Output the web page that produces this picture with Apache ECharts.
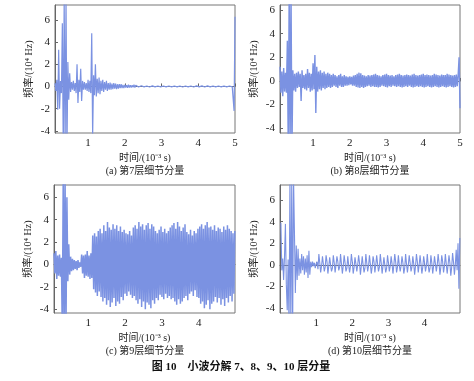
<!DOCTYPE html>
<html><head><meta charset="utf-8">
<script src="https://cdn.jsdelivr.net/npm/echarts@6/dist/echarts.min.js"></script>
<style>html,body{margin:0;padding:0;background:#fff}#c{width:474px;height:381px}</style>
</head><body><div id="c"></div>
<script>
// sample step (10^-3 s) and start times
const DT = 0.025;
const startA = 0.1, startB = 0.1, startC = 0.075, startD = 0.025;
const xTicksAB = [1, 2, 3, 4, 5];
const xTicksCD = [1, 2, 3, 4];
const yTicks = [-4, -2, 0, 2, 4, 6];
const captions = ['(a) 第7层细节分量', '(b) 第8层细节分量', '(c) 第9层细节分量', '(d) 第10层细节分量'];
const figTitle = '图 10　小波分解 7、8、9、10 层分量';
const xName = '时间/(10⁻³ s)';
const yName = '频率/(10⁴ Hz)';

// layer 7 detail
const valA = [
0.3,-0.4,0.6,-2.1,3.3,-2.0,0.5,-0.6,5.7,-6,
8,-6,8,-6,2.2,-1.2,1.2,-0.5,0.4,-0.3,
0.5,-0.4,0.3,-0.6,2.0,-1.5,0.6,-0.5,1.6,-1.3,
0.5,-0.3,0.4,-0.3,0.3,-0.4,0.6,-0.5,0.5,-0.6,
4.8,-4.5,1.0,-0.8,2.0,-0.9,0.7,-0.6,0.8,-0.7,
0.5,-0.4,0.6,-0.5,0.4,-0.3,0.5,-0.4,0.3,-0.3,
0.35,-0.3,0.25,-0.25,0.3,-0.2,0.25,-0.25,0.2,-0.2,
0.2,-0.15,0.2,-0.15,0.15,-0.15,0.15,-0.1,0.12,-0.12,
0.15,-0.1,0.1,-0.1,0.12,-0.08,0.15,-0.1,0.1,-0.08,
0.06,-0.05,0.08,-0.05,0.06,-0.04,0.05,-0.04,0.04,-0.04,
0.04,-0.04,0.04,-0.05,0.04,-0.04,0.05,-0.04,0.04,-0.04,
0.04,-0.05,0.04,-0.04,0.05,-0.04,0.04,-0.04,0.04,-0.05,
0.05,-0.04,0.04,-0.05,0.04,-0.04,0.05,-0.04,0.04,-0.04,
0.04,-0.05,0.04,-0.04,0.05,-0.04,0.04,-0.04,0.04,-0.05,
0.05,-0.04,0.04,-0.05,0.04,-0.04,0.05,-0.04,0.04,-0.04,
0.04,-0.05,0.04,-0.04,0.05,-0.04,0.04,-0.04,0.04,-0.05,
0.05,-0.04,0.04,-0.05,0.04,-0.04,0.05,-0.04,0.04,-0.04,
0.04,-0.05,0.04,-0.04,0.05,-0.04,0.04,-0.04,0.04,-0.05,
0.05,-0.04,0.04,-0.05,0.04,-0.04,0.05,-0.04,0.04,-0.04,
0.04,-0.05,0.04,-0.04,0.05,-2.2,6.3
];
// layer 8 detail
const valB = [
1.2,-1.0,0.8,-1.3,1.1,-0.9,0.7,-1.0,3.4,-6,
8,-6,8,-6,0.9,-0.8,0.6,-0.9,0.7,-0.6,
0.8,-0.5,0.6,-1.7,0.9,-0.6,0.5,-0.7,0.6,-0.8,
1.0,-0.6,0.7,-0.9,0.6,-0.8,1.5,-0.7,2.2,-2.7,
1.2,-0.9,0.8,-0.7,0.9,-0.8,0.7,-0.6,0.8,-0.7,
0.6,-0.6,0.7,-0.5,0.6,-0.6,0.5,-0.5,0.6,-0.4,
0.5,-0.5,0.4,-0.6,0.5,-0.4,0.6,-0.5,0.4,-0.5,
0.5,-0.4,0.4,-0.4,0.35,-0.35,0.4,-0.3,0.35,-0.4,
0.45,-0.4,0.5,-0.5,0.6,-0.55,0.7,-0.6,0.65,-0.5,
0.5,-0.6,0.45,-0.5,0.4,-0.45,0.5,-0.4,0.45,-0.5,
0.5,-0.45,0.55,-0.5,0.6,-0.5,0.5,-0.55,0.45,-0.5,
0.4,-0.4,0.5,-0.45,0.55,-0.5,0.6,-0.55,0.5,-0.45,
0.45,-0.5,0.5,-0.4,0.4,-0.45,0.5,-0.5,0.55,-0.45,
0.6,-0.5,0.5,-0.55,0.45,-0.5,0.5,-0.45,0.55,-0.5,
0.5,-0.4,0.45,-0.5,0.55,-0.55,0.6,-0.5,0.5,-0.45,
0.45,-0.5,0.5,-0.45,0.55,-0.5,0.6,-0.55,0.5,-0.5,
0.55,-0.45,0.5,-0.5,0.45,-0.55,0.5,-0.5,0.6,-0.45,
0.55,-0.5,0.5,-0.55,0.45,-0.5,0.55,-0.45,0.5,-0.5,
0.5,-0.55,0.6,-0.5,0.55,-0.45,0.5,-0.5,0.45,-0.55,
0.5,-0.5,0.55,-0.45,0.5,2.0,-2.3
];
// layer 9 detail
const valC = [
1.0,-0.8,1.2,-1.3,0.8,-1.0,0.9,-1.1,0.6,-6,
8,-6,8,-6,6.0,-1.5,1.8,-0.9,0.7,-0.6,
0.5,-0.5,0.4,-0.4,0.3,-0.5,0.4,-0.3,0.2,-0.2,
0.9,-0.8,0.8,-1.2,0.9,-1.0,1.2,-1.1,0.8,-1.3,
1.0,-1.2,2.6,-2.2,2.8,-2.5,2.5,-2.8,3.0,-2.4,
3.2,-2.9,2.8,-3.3,3.5,-3.0,3.0,-3.6,3.8,-3.2,
3.3,-3.8,3.1,-3.4,3.6,-3.0,3.2,-3.7,3.5,-3.3,
3.0,-3.5,3.4,-2.9,2.9,-3.2,3.1,-2.6,2.8,-2.8,
2.7,-2.4,3.0,-2.7,2.6,-3.0,3.3,-2.8,3.5,-3.2,
3.2,-3.5,3.8,-3.1,3.4,-3.8,3.6,-3.3,3.1,-4.0,
3.5,-3.4,3.7,-3.6,3.2,-3.9,3.6,-3.2,3.4,-3.5,
3.0,-3.0,2.8,-3.2,3.1,-2.7,3.4,-2.9,2.9,-3.1,
3.2,-2.6,2.8,-3.0,3.0,-2.8,3.3,-3.1,3.5,-3.0,
3.7,-3.3,3.2,-3.6,3.8,-3.1,3.4,-3.5,3.0,-3.3,
3.3,-3.0,3.6,-2.8,2.9,-3.2,2.7,-2.6,3.1,-2.4,
2.6,-2.8,3.0,-2.3,2.8,-2.9,3.2,-3.0,3.4,-3.5,
3.6,-3.3,3.2,-3.9,3.5,-3.6,3.8,-3.2,3.3,-4.0,
3.4,-3.5,3.1,-3.3,3.5,-2.9,3.0,-3.4,3.3,-3.0,
3.2,-3.6,2.9,-3.1,3.4,-3.7,3.1,-3.0,3.5,-3.4,
3.2,-2.8,3.0,-3.3,2.8,-2.6,3.0
];
// layer 10 detail
const valD = [
3.9,-0.5,0.6,-1.4,0.8,3.8,-1.8,-4.2,0.5,-6,
8,-6,8,-6,8,3.0,-2.6,1.8,-1.4,1.5,
-1.0,0.6,-0.8,1.0,-0.5,0.8,-0.9,0.6,-0.7,0.9,
-1.2,1.3,-0.9,0.3,-0.2,0.3,-0.1,0.2,-0.3,0.1,
0.3,-0.4,1.0,0.2,-0.7,-0.1,0.8,0.1,-0.6,-0.2,
0.9,0.3,-0.8,-0.1,0.7,0.0,-0.6,-0.3,0.9,0.2,
-0.7,0.0,0.8,0.3,-0.5,-0.2,1.0,0.1,-0.8,-0.1,
0.9,0.2,-0.6,-0.3,0.8,0.0,-0.7,-0.1,1.0,0.3,
-0.8,-0.2,0.7,0.1,-0.6,0.0,0.9,0.2,-0.9,-0.1,
0.8,0.0,-0.7,-0.3,1.0,0.2,-0.6,-0.1,0.9,0.1,
-0.8,-0.2,0.8,0.3,-0.7,0.0,0.9,0.1,-0.6,-0.2,
1.0,0.2,-0.8,-0.1,0.7,0.0,-0.7,-0.3,0.9,0.2,
-0.6,-0.1,0.8,0.1,-0.8,0.0,1.0,0.3,-0.7,-0.2,
0.9,0.0,-0.6,-0.1,0.8,0.2,-0.8,-0.3,1.0,0.1,
-0.7,0.0,0.9,0.2,-0.6,-0.2,0.8,0.1,-0.9,-0.1,
1.0,0.3,-0.7,0.0,0.9,0.1,-0.8,-0.2,0.8,0.2,
-0.6,-0.1,1.0,0.0,-0.7,-0.3,0.9,0.2,-0.8,-0.1,
0.8,0.1,-0.6,0.0,1.0,0.2,-0.9,-0.2,0.9,0.3,
-0.7,-0.1,1.0,0.1,-0.8,0.0,0.9,0.2,-1.0,-0.2,
1.1,0.3,-0.9,0.0,1.4,-0.5,2.0,-2.2,2.5
];

const FONT = '"Liberation Serif","Noto Sans CJK SC",serif';
const LINE = '#7b92e2';
const WIDTHS = [1.2, 1.4, 1.5, 1.1];
const toPairs = (vals, t0) => vals.map((v, i) => [+(t0 + i * DT).toFixed(4), v]);

const grids = [
  {left: 55, top: 5, width: 180, height: 128},
  {left: 280, top: 5, width: 180, height: 128},
  {left: 54, top: 185, width: 181, height: 128},
  {left: 280, top: 185, width: 180, height: 128}
].map(g => Object.assign(g, {show: true, borderColor: '#777', borderWidth: 1, backgroundColor: 'transparent'}));

const xr = [[0.1, 5], [0.1, 5], [0.075, 4.98], [0.0, 4.98]];
const yr = [[-4.2, 7.35], [-4.4, 6.42], [-4.33, 7.1], [-4.45, 7.4]];
const xt = [xTicksAB, xTicksAB, xTicksCD, xTicksCD];

const axLine = {show: true, lineStyle: {color: '#666', width: 1}};
const xAxis = xr.map((r, i) => ({
  type: 'value', gridIndex: i, min: r[0], max: r[1],
  axisLine: axLine,
  axisTick: {show: true, inside: true, length: 3, customValues: xt[i], lineStyle: {color: '#666'}},
  axisLabel: {customValues: xt[i], color: '#222', fontFamily: FONT, fontSize: 11, margin: 5},
  splitLine: {show: false},
  name: xName, nameLocation: 'middle', nameGap: 20,
  nameTextStyle: {color: '#222', fontFamily: FONT, fontSize: 10}
}));
const yAxis = yr.map((r, i) => ({
  type: 'value', gridIndex: i, min: r[0], max: r[1],
  axisLine: axLine,
  axisTick: {show: true, inside: true, length: 3, customValues: yTicks, lineStyle: {color: '#666'}},
  axisLabel: {customValues: yTicks, color: '#222', fontFamily: FONT, fontSize: 11, margin: 5},
  splitLine: {show: false},
  name: yName, nameLocation: 'middle', nameGap: 21,
  nameTextStyle: {color: '#222', fontFamily: FONT, fontSize: 10}
}));

const dataSets = [toPairs(valA, startA), toPairs(valB, startB), toPairs(valC, startC), toPairs(valD, startD)];
const series = dataSets.map((d, i) => ({
  type: 'line', xAxisIndex: i, yAxisIndex: i, data: d, showSymbol: false,
  lineStyle: {color: LINE, width: WIDTHS[i]}, clip: true, silent: true
}));

const capPos = [[145, 166], [370, 166], [145, 346], [370, 346]];
const graphic = captions.map((t, i) => ({
  type: 'text', x: capPos[i][0], y: capPos[i][1],
  style: {text: t, fill: '#222', font: '10px ' + FONT, textAlign: 'center'}
}));
graphic.push({type: 'text', x: 241, y: 362,
  style: {text: figTitle, fill: '#111', font: 'bold 11px ' + FONT, textAlign: 'center'}});

const chart = echarts.init(document.getElementById('c'), null, {renderer: 'canvas'});
chart.setOption({animation: false, grid: grids, xAxis, yAxis, series, graphic});
</script></body></html>
